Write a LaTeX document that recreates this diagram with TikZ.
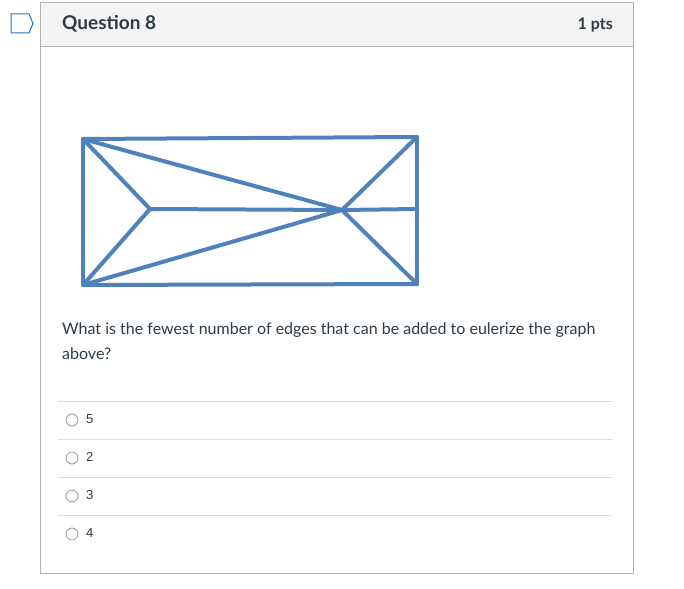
\documentclass[tikz,border=0pt]{standalone}
\usepackage{fontspec}
\setmainfont{Lato}
\newfontfamily\optfont{Liberation Sans}
\usepackage{tikz}

\definecolor{edgeblue}{HTML}{4F81BD}
\definecolor{cardgray}{HTML}{B3B3B3}
\definecolor{headgray}{HTML}{F4F4F4}
\definecolor{rulegray}{HTML}{DDDDDD}
\definecolor{iconblue}{HTML}{2D6DB3}
\definecolor{inkgray}{HTML}{2D3B45}

\tikzset{
    edge/.style={edgeblue, line width=4pt, line cap=round, line join=round},
    opt/.style={anchor=west, font=\optfont\fontsize{13}{15}\selectfont, text=inkgray, inner sep=0pt},
    radio/.style={draw=gray!80, line width=0.8pt, circle, minimum size=12pt, inner sep=0pt}
}

\begin{document}
\begin{tikzpicture}[x=1pt,y=-1pt]
    \useasboundingbox (0,0) rectangle (684,588);
    % card
    \fill[headgray] (40,3) rectangle (633,47);
    \draw[cardgray, line width=1pt] (40,3) rectangle (633,573);
    \draw[cardgray, line width=1pt] (40,47) -- (633,47);
    \draw[iconblue, line width=1pt, line join=miter] (11,14) -- (29,14) -- (33,23.5) -- (29,33) -- (11,33) -- cycle;
    \node[anchor=base west, inner sep=0pt, font=\bfseries\fontsize{19}{22}\selectfont, text=inkgray] (title) at (62,30) {Question 8};
    \node[anchor=base east, inner sep=0pt, font=\bfseries\fontsize{16}{19}\selectfont, text=inkgray] (pts) at (613,30) {1 pts};

    % graph
    \coordinate (tl) at (83,139);
    \coordinate (tr) at (417,137);
    \coordinate (bl) at (83,285);
    \coordinate (br) at (417,284);
    \coordinate (lm) at (150,209);
    \coordinate (cm) at (342,210);
    \coordinate (rm) at (417,209);
    \draw[edge] (tl) -- (tr);
    \draw[edge] (bl) -- (br);
    \draw[edge] (tl) -- (bl);
    \draw[edge] (tr) -- (rm) -- (br);
    \draw[edge] (tl) -- (lm) -- (bl);
    \draw[edge] (lm) -- (cm) -- (rm);
    \draw[edge] (tl) -- (cm);
    \draw[edge] (bl) -- (cm);
    \draw[edge] (cm) -- (tr);
    \draw[edge] (cm) -- (br);

    % question
    \node[anchor=base west, inner sep=0pt, font=\fontsize{16}{19}\selectfont, text=inkgray] (q1) at (62,334) {What is the fewest number of edges that can be added to eulerize the graph};
    \node[anchor=base west, inner sep=0pt, font=\fontsize{16}{19}\selectfont, text=inkgray] (q2) at (62,359) {above?};

    % answers
    \foreach \y/\ans [count=\i] in {401/5,439/2,477/3,515/4} {
        \draw[rulegray, line width=1pt] (58,\y) -- (613,\y);
        \node[radio] (r\i) at (72,\y+19) {};
        \node[opt] (a\i) at (86,\y+18) {\ans};
    }
\end{tikzpicture}
\end{document}
